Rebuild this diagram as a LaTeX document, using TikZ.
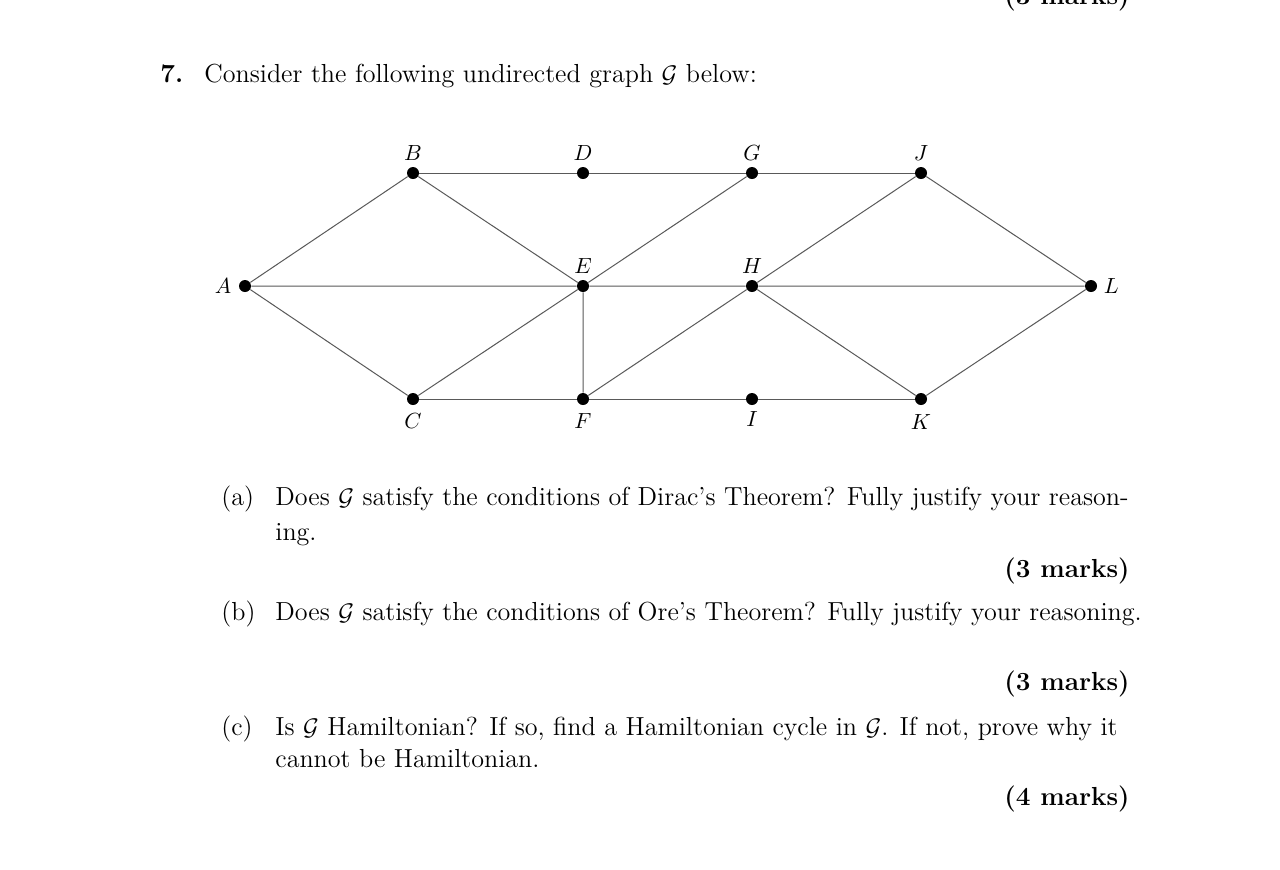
\documentclass[tikz,border=0pt]{standalone}
\usepackage{amssymb}
\usepackage{xcolor}
\usepackage{tikz}
\usetikzlibrary{positioning}

\begin{document}
\begin{tikzpicture}[x=0.5pt, y=-0.5pt,
  vtx/.style={circle, fill=black, inner sep=0pt, minimum size=6pt},
  link/.style={draw=black!65, line width=0.5pt},
  lbl/.style={inner sep=0pt, font=\fontsize{11}{13}\selectfont},
  txt/.style={inner sep=0pt, font=\fontsize{13.05}{16}\selectfont}]

  \clip (0,0) rectangle (1280,869);
  \fill[white] (0,0) rectangle (1280,869);

  % 1. Testo della domanda
  \node[txt, anchor=base east] (mtop) at (1130,4) {\textbf{(3 marks)}};
  \node[txt, anchor=base west] (qnum) at (160,82) {\textbf{7.}};
  \node[txt, anchor=base west] (qtext) at (204,82) {Consider the following undirected graph $\mathcal{G}$ below:};

  % 2. Vertici del grafo
  \node[vtx] (A) at (245,286) {};
  \node[vtx] (B) at (413,173) {};
  \node[vtx] (D) at (583,173) {};
  \node[vtx] (G) at (752,173) {};
  \node[vtx] (J) at (921,173) {};
  \node[vtx] (E) at (583,286) {};
  \node[vtx] (H) at (752,286) {};
  \node[vtx] (L) at (1091,286) {};
  \node[vtx] (C) at (413,399) {};
  \node[vtx] (F) at (583,399) {};
  \node[vtx] (I) at (752,399) {};
  \node[vtx] (K) at (921,399) {};

  % Etichette dei vertici
  \node[lbl, left=3.5pt of A] (lA) {$A$};
  \node[lbl, above=3pt of B] (lB) {$B$};
  \node[lbl, above=3pt of D] (lD) {$D$};
  \node[lbl, above=3pt of G] (lG) {$G$};
  \node[lbl, above=3pt of J] (lJ) {$J$};
  \node[lbl, above=3pt of E] (lE) {$E$};
  \node[lbl, above=3pt of H] (lH) {$H$};
  \node[lbl, right=3pt of L] (lL) {$L$};
  \node[lbl, below=4pt of C] (lC) {$C$};
  \node[lbl, below=4pt of F] (lF) {$F$};
  \node[lbl, below=3pt of I] (lI) {$I$};
  \node[lbl, below=4.5pt of K] (lK) {$K$};

  % 3. Lati (non orientati)
  \draw[link] (A) -- (B) (A) -- (E) (A) -- (C);
  \draw[link] (B) -- (D) (D) -- (G) (G) -- (J);
  \draw[link] (B) -- (E) (C) -- (E) (E) -- (G) (E) -- (F) (E) -- (H);
  \draw[link] (C) -- (F) (F) -- (I) (I) -- (K);
  \draw[link] (F) -- (H) (H) -- (J) (H) -- (K) (H) -- (L);
  \draw[link] (J) -- (L) (K) -- (L);

  % 4. Sottodomande
  \node[txt, anchor=base west] (pa) at (221,505) {(a)};
  \node[txt, anchor=base west] (pa1) at (275,505) {Does $\mathcal{G}$ satisfy the conditions of Dirac's Theorem? Fully justify your reason-};
  \node[txt, anchor=base west] (pa2) at (275,540) {ing.};
  \node[txt, anchor=base east] (ma) at (1130,577) {\textbf{(3 marks)}};

  \node[txt, anchor=base west] (pb) at (221,620) {(b)};
  \node[txt, anchor=base west] (pb1) at (275,620) {Does $\mathcal{G}$ satisfy the conditions of Ore's Theorem? Fully justify your reasoning.};
  \node[txt, anchor=base east] (mb) at (1130,690) {\textbf{(3 marks)}};

  \node[txt, anchor=base west] (pc) at (221,735) {(c)};
  \node[txt, anchor=base west] (pc1) at (275,735) {Is $\mathcal{G}$ Hamiltonian? If so, find a Hamiltonian cycle in $\mathcal{G}$. If not, prove why it};
  \node[txt, anchor=base west] (pc2) at (275,767) {cannot be Hamiltonian.};
  \node[txt, anchor=base east] (mc) at (1130,805) {\textbf{(4 marks)}};

\end{tikzpicture}
\end{document}
